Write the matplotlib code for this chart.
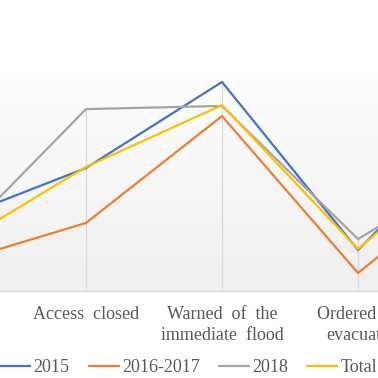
import matplotlib
import numpy as np

matplotlib.use("Agg")
matplotlib.rcParams["font.family"] = ["Liberation Serif", "DejaVu Serif"]
import matplotlib.pyplot as plt  # noqa: E402
from matplotlib.colors import LinearSegmentedColormap  # noqa: E402

# data (share of respondents, %)
categories = [
    "Informed",
    "Access  closed",
    "Warned  of  the\nimmediate  flood",
    "Ordered  to\nevacuate",
    "Assisted",
]
series_names = ["2015", "2016-2017", "2018", "Total"]
y2015 = [33.0, 58.0, 98.6, 19.3, 84.0]
y2016_2017 = [12.7, 32.1, 82.5, 8.5, 59.9]
y2018 = [20.3, 85.8, 87.3, 24.5, 63.2]
y_total = [19.8, 58.5, 87.7, 19.8, 74.5]

COLORS = ["#4472C4", "#ED7D31", "#A5A5A5", "#FFC000"]
TEXT = "#595959"
GRID = "#D9D9D9"

fig = plt.figure(figsize=(3.78, 3.78), dpi=100)
# chart is a crop: axes run past the left/right edges of the figure
ax = fig.add_axes([0.0, 1 - 291 / 378, 1.0, (291 - 79) / 378])

x = np.arange(len(categories))
all_series = [y2015, y2016_2017, y2018, y_total]

# plot area gradient fill
grad = np.linspace(0, 1, 256).reshape(-1, 1)
cmap = LinearSegmentedColormap.from_list("bg", ["#FDFDFD", "#EFEFEF"])
ax.imshow(grad, cmap=cmap, aspect="auto", extent=[0, 1, 0, 1],
          transform=ax.transAxes, zorder=0)

# drop lines from the highest point down to the axis
tops = np.max(np.array(all_series), axis=0)
ax.vlines(x, 0, tops, color=GRID, linewidth=0.9, zorder=1)

for name, vals, color in zip(series_names, all_series, COLORS):
    ax.plot(x, vals, color=color, linewidth=1.6, label=name, zorder=3)

ax.set_xticks(x)
ax.set_xticklabels(categories, fontsize=13, color=TEXT, linespacing=1.3)
ax.set_xlim((0 + 50) / 136, (378 + 50) / 136)
ax.set_ylim(0, 100)
ax.tick_params(axis="x", length=0, pad=11)
ax.set_yticks([])
for side in ["top", "right", "left"]:
    ax.spines[side].set_visible(False)
ax.spines["bottom"].set_color(GRID)
ax.spines["bottom"].set_linewidth(1.0)
ax.spines["bottom"].set_zorder(2)

fig.legend(
    loc="center left",
    bbox_to_anchor=(0.0, 1 - 368 / 378),
    ncol=4,
    frameon=False,
    fontsize=13,
    handlelength=1.66,
    handletextpad=0.2,
    columnspacing=1.05,
    borderpad=0,
    borderaxespad=0,
    labelcolor=TEXT,
)

fig.savefig("out.png", dpi=100)
